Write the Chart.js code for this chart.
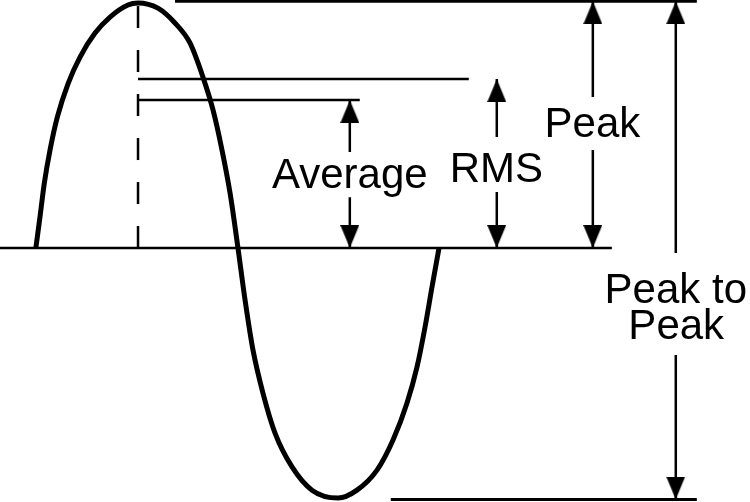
<!DOCTYPE html>
<html>
<head>
<meta charset="utf-8">
<title>Peak, RMS, Average</title>
<script src="https://cdn.jsdelivr.net/npm/chart.js@4.4.1/dist/chart.umd.min.js"></script>
<style>
  body { margin: 0; background: #fff; }
  #caja { width: 750px; height: 502px; }
</style>
</head>
<body>
<div id="caja"><canvas id="grafica" width="750" height="502"></canvas></div>
<script>
// onda: fase en grados, nivel en unidades del pico
var wavePhase = [0, 3.7, 7.6, 12.7, 19.2, 29, 39.5, 52.9, 66.3, 82.3, 91.3, 109.1, 124.3, 137.7, 149.3, 158.3, 166.3, 173.5, 180.6,
                 186.9, 194, 202.9, 213.7, 228.9, 246.7, 270, 286.9, 304.8, 319.1, 331.6, 340.5, 347.7, 353.9, 360.2];
var waveLevel = [0, 0.125, 0.263, 0.397, 0.53, 0.668, 0.773, 0.87, 0.935, 0.984, 0.992, 0.971, 0.911, 0.83, 0.692, 0.559, 0.397, 0.223, 0,
                 -0.21, -0.413, -0.587, -0.749, -0.886, -0.98, -1.012, -0.98, -0.899, -0.777, -0.627, -0.482, -0.32, -0.158, 0];

// lineas de referencia
var refNames = ['zero', 'peak', 'trough', 'rms', 'average'];
var refLevel = [0, 0.999, -1.018, 0.684, 0.599];
var refStart = [-32, 124.3, 317.1, 91.3, 91.3];
var refEnd = [514.6, 590.5, 590.5, 386.8, 289.4];

// flechas
var arrowNames = ['Average', 'RMS', 'Peak', 'Peak to Peak'];
var arrowPhase = [280.5, 411.8, 497.6, 571.7];
var arrowFrom = [0.599, 0.684, 0.999, 0.999];
var arrowGapTop = [0.389, 0.449, 0.611, -0.02];
var arrowGapBottom = [0.206, 0.227, 0.397, -0.433];
var arrowTo = [0, 0, 0, -1.018];

// textos
var labelTexts = ['Average', 'RMS', 'Peak', 'Peak to', 'Peak'];
var labelPhase = [280.5, 411.4, 497.2, 571.7, 572.1];
var labelLevel = [0.243, 0.267, 0.449, -0.223, -0.368];

var peakPhase = 91.3;
var peakLevel = 0.99;

// punta de flecha: vertice en el centro del canvas
function puntaFlecha() {
    var c = document.createElement('canvas');
    c.width = 19;
    c.height = 46;
    var g = c.getContext('2d');
    g.fillStyle = '#000';
    g.beginPath();
    g.moveTo(9.5, 23);
    g.lineTo(19, 46);
    g.lineTo(0, 46);
    g.closePath();
    g.fill();
    return c;
}
var punta = puntaFlecha();

var datasets = [];

datasets.push({
    label: 'wave',
    data: wavePhase.map(function (p, i) { return { x: p, y: waveLevel[i] }; }),
    borderColor: '#000',
    borderWidth: 5,
    pointRadius: 0,
    cubicInterpolationMode: 'monotone',
    clip: false
});

refNames.forEach(function (n, i) {
    datasets.push({
        label: n,
        data: [{ x: refStart[i], y: refLevel[i] }, { x: refEnd[i], y: refLevel[i] }],
        borderColor: '#000',
        borderWidth: (n == 'peak' || n == 'trough') ? 3 : 2.5,
        pointRadius: 0,
        clip: false
    });
});

// linea punteada del pico
datasets.push({
    label: 'peak marker',
    data: [{ x: peakPhase, y: 0 }, { x: peakPhase, y: peakLevel }],
    borderColor: '#000',
    borderWidth: 2.5,
    borderDash: [22, 22],
    pointRadius: 0,
    clip: false
});

arrowNames.forEach(function (n, i) {
    var p = arrowPhase[i];
    datasets.push({
        label: n,
        data: [
            { x: p, y: arrowFrom[i] },
            { x: p, y: arrowGapTop[i] },
            { x: p, y: null },
            { x: p, y: arrowGapBottom[i] },
            { x: p, y: arrowTo[i] }
        ],
        borderColor: '#000',
        borderWidth: 2.5,
        pointStyle: punta,
        pointRadius: [1, 0, 0, 0, 1],
        pointRotation: [0, 0, 0, 0, 180],
        spanGaps: false,
        clip: false
    });
});

var textos = {
    id: 'textos',
    afterDatasetsDraw: function (chart) {
        var ctx = chart.ctx;
        var sx = chart.scales.x, sy = chart.scales.y;
        ctx.save();
        ctx.fillStyle = '#000';
        ctx.font = '42px "Liberation Sans", Arial, sans-serif';
        ctx.textAlign = 'center';
        ctx.textBaseline = 'alphabetic';
        labelTexts.forEach(function (t, i) {
            ctx.fillText(t, sx.getPixelForValue(labelPhase[i]), sy.getPixelForValue(labelLevel[i]));
        });
        ctx.restore();
    }
};

var grafica = new Chart(document.getElementById('grafica'), {
    type: 'line',
    data: { datasets: datasets },
    options: {
        responsive: false,
        animation: false,
        events: [],
        layout: { padding: 0, autoPadding: false },
        plugins: {
            legend: { display: false },
            tooltip: { enabled: false }
        },
        scales: {
            x: { type: 'linear', min: -32, max: 638, display: false },
            y: { type: 'linear', min: -1.028, max: 1.004, display: false }
        }
    },
    plugins: [textos]
});
</script>
</body>
</html>
